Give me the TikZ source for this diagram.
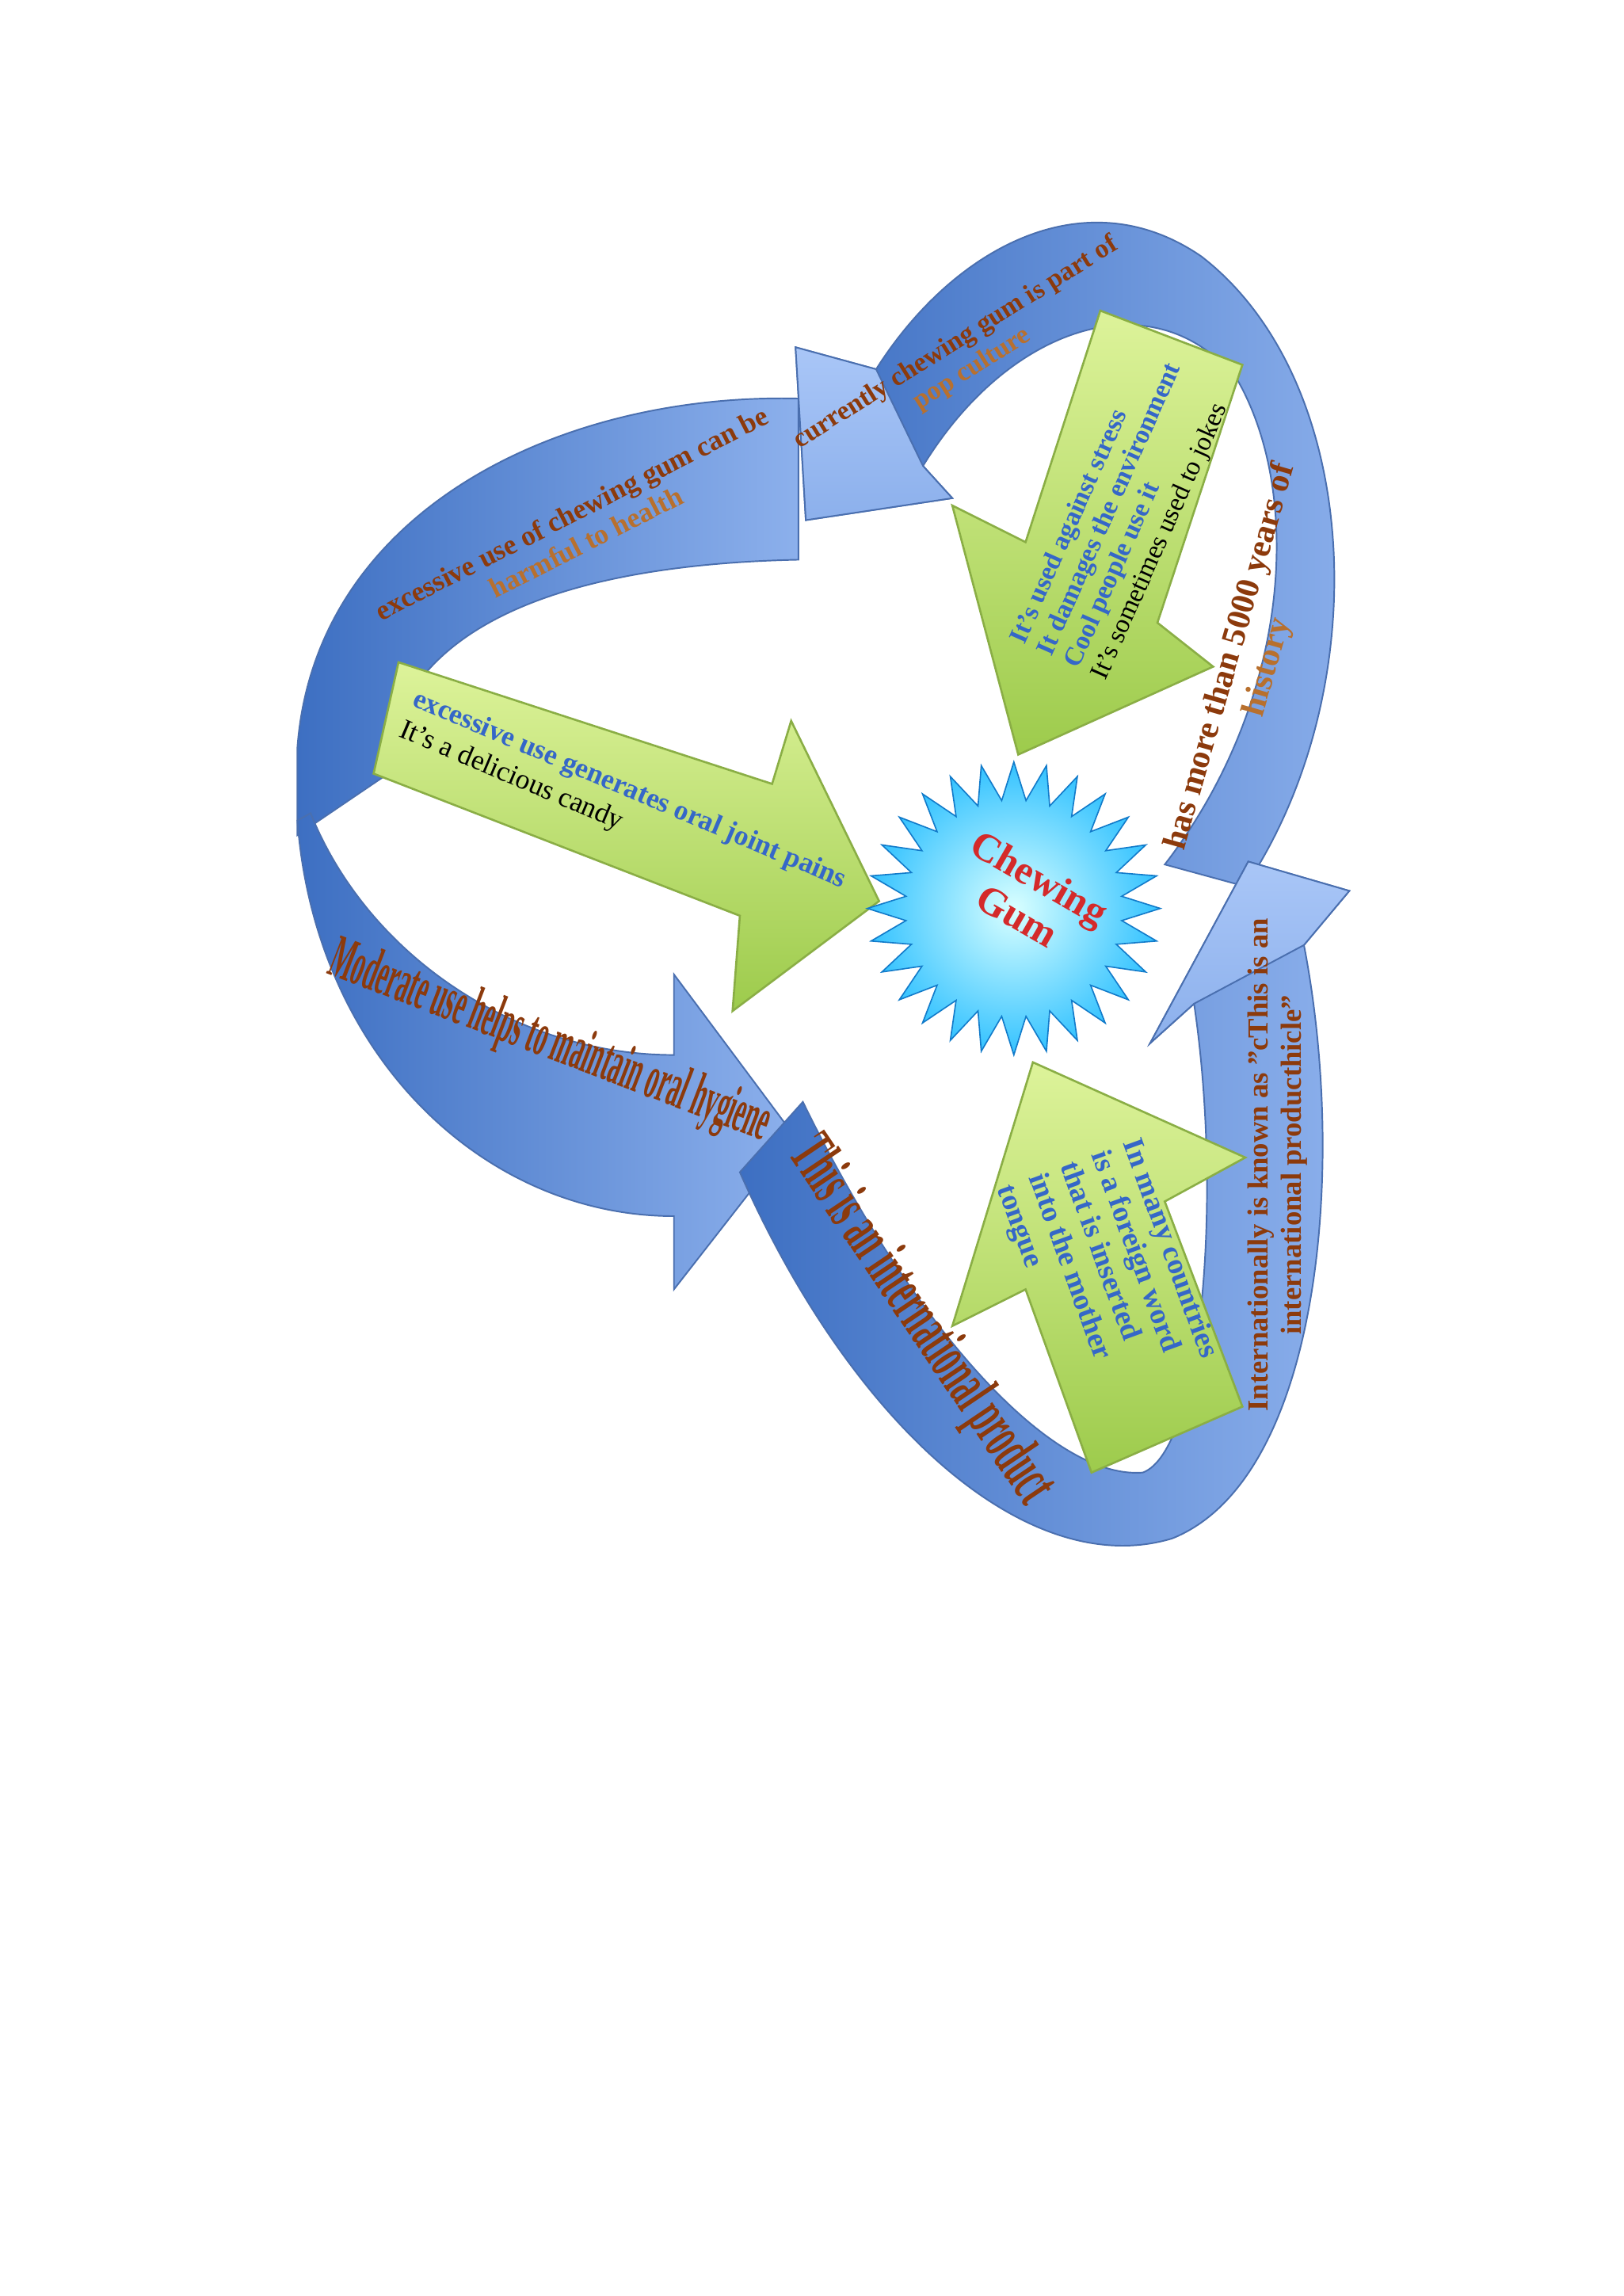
\documentclass[tikz,border=0pt]{standalone}
\usepackage{fontspec}
\setmainfont{Liberation Serif}
\usetikzlibrary{shapes.geometric}
\definecolor{bandA}{HTML}{3D6FC2}
\definecolor{bandB}{HTML}{8CB0EC}
\definecolor{headL}{HTML}{A9C6F7}
\definecolor{bedge}{HTML}{4A6FAF}
\definecolor{gA}{HTML}{DDF39A}
\definecolor{gB}{HTML}{9DCB4C}
\definecolor{gedge}{HTML}{8AAE45}
\definecolor{brn}{HTML}{8C3A0C}
\definecolor{brnL}{HTML}{B8702E}
\definecolor{bluT}{HTML}{3567C8}
\definecolor{redT}{HTML}{D42A2A}
\tikzset{
  band/.style={draw=bedge, line width=0.6pt, left color=bandA, right color=bandB},
  bandlight/.style={draw=bedge, line width=0.6pt, top color=headL, bottom color=bandB},
  garrow/.style={draw=gedge, line width=0.8pt, top color=gA, bottom color=gB},
  btxt/.style={text=brn, font=\bfseries, inner sep=0pt, align=center},
  gtxt/.style={text=bluT, font=\bfseries, inner sep=0pt, align=left}
}
\begin{document}
\begin{tikzpicture}[x=0.02cm,y=-0.02cm]
\useasboundingbox (0,0) rectangle (1108,1567);
\fill[white] (0,0) rectangle (1108,1567);
% band 1 (top-left)
\path[band] (545,272) .. controls (380,268) and (215,350) .. (203,510) -- (203,570) -- (262,530) .. controls (270,420) and (400,385) .. (545,382) -- cycle;
% band 4 (top-right loop)
\path[band] (850,605) .. controls (940,470) and (930,260) .. (820,175) .. controls (740,120) and (650,170) .. (598,252) -- (543,237) -- (550,355) -- (650,340) -- (630,318) .. controls (690,220) and (790,190) .. (845,260) .. controls (890,340) and (880,480) .. (795,590) -- cycle;
\path[bandlight] (598,252) -- (543,237) -- (550,355) -- (650,340) -- (630,318) -- cycle;
% band 2 (lower left)
\path[band] (212,555) .. controls (250,650) and (350,720) .. (460,720) -- (460,665) -- (542,775) -- (460,880) -- (460,830) .. controls (330,830) and (215,720) .. (203,560) -- cycle;
% band 3 (bottom + right)
\path[band] (505,800) .. controls (580,970) and (700,1080) .. (800,1050) .. controls (900,1010) and (920,800) .. (890,645) -- (921,608) -- (852,588) -- (785,712) -- (815,685) .. controls (835,820) and (820,990) .. (780,1005) .. controls (715,1010) and (620,900) .. (548,752) -- cycle;
\path[bandlight] (890,645) -- (921,608) -- (852,588) -- (785,712) -- (815,685) -- cycle;
% green arrows
\path[garrow] (751,212) -- (848,249) -- (790,425) -- (828,455) -- (695,515) -- (650,345) -- (700,370) -- cycle;
\path[garrow] (272,452) -- (527,535) -- (540,492) -- (600,615) -- (500,690) -- (505,625) -- (255,528) -- cycle;
\path[garrow] (848,960) -- (795,820) -- (850,790) -- (705,725) -- (650,905) -- (700,880) -- (745,1005) -- cycle;
% star
\node[star, star points=28, star point ratio=1.35, minimum size=4cm, draw=cyan!60!blue, line width=0.5pt, inner color=cyan!15, outer color=cyan!70!blue!80] (star) at (692,620) {};
\node[text=redT, font=\bfseries\fontsize{15.5}{17}\selectfont, rotate=-30, align=center] (sttxt) at (702,612) {Chewing\\Gum};
% band texts
\node[btxt, rotate=32, font=\bfseries\fontsize{10.5}{12}\selectfont] (t1) at (658,243) {currently chewing gum is part of\\\textcolor{brnL}{pop culture}};
\node[btxt, rotate=27, font=\bfseries\fontsize{11}{12.5}\selectfont] (t2) at (395,360) {excessive use of chewing gum can be\\\textcolor{brnL}{harmful to health}};
\node[btxt, rotate=74, font=\bfseries\fontsize{13}{15}\selectfont] (t3) at (853,452) {has more than 5000 years of\\\textcolor{brnL}{history}};
\node[btxt, rotate=90, font=\bfseries\fontsize{11.3}{13}\selectfont] (t4) at (872,795) {Internationally is known as "cThis is an\\international producthicle"};
\node[btxt, rotate=-56, font=\bfseries\fontsize{26}{28}\selectfont] (t5) at (628,902) {\scalebox{0.47}[1]{This is an international product}};
\node[btxt, rotate=-21, font=\bfseries\fontsize{24}{26}\selectfont] (t6) at (375,712) {\scalebox{0.4}[1]{Moderate use helps to maintain oral hygiene}};
% green texts
\node[gtxt, rotate=-23, font=\bfseries\fontsize{11}{13}\selectfont] (g2) at (425,550) {excessive use generates oral joint pains\\\textcolor{black}{\mdseries It's a delicious candy}};
\node[gtxt, rotate=66, font=\bfseries\fontsize{10.3}{11.5}\selectfont] (g1) at (767,352) {It's used against stress\\It damages the environment\\Cool people use it\\\textcolor{black}{\mdseries It's sometimes used to jokes}};
\node[gtxt, rotate=-70, font=\bfseries\fontsize{11.5}{13}\selectfont] (g3) at (755,868) {In many countries\\is a foreign word\\that is inserted\\into the mother\\tongue};
\end{tikzpicture}
\end{document}
